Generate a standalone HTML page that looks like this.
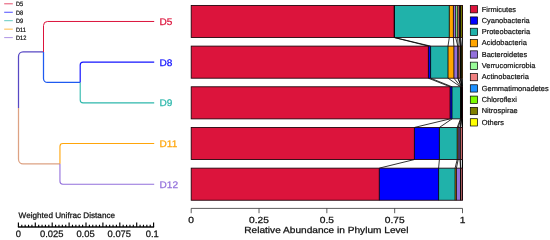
<!DOCTYPE html>
<html><head><meta charset="utf-8"><title>Phylum abundance</title>
<style>html,body{margin:0;padding:0;background:#fff}svg{display:block}text{font-family:"Liberation Sans",Arial,sans-serif;text-rendering:geometricPrecision}</style></head><body>
<svg width="550" height="240" viewBox="0 0 550 240">
<rect width="550" height="240" fill="#fff"/>
<g stroke="#000" stroke-width="0.8" fill="none">
<line x1="394.25" y1="37.52" x2="428.4" y2="46.10"/>
<line x1="394.4" y1="37.52" x2="430.6" y2="46.10"/>
<line x1="449.3" y1="37.52" x2="448" y2="46.10"/>
<line x1="453.4" y1="37.52" x2="453.9" y2="46.10"/>
<line x1="455.7" y1="37.52" x2="457.8" y2="46.10"/>
<line x1="457.7" y1="37.52" x2="458.2" y2="46.10"/>
<line x1="459.3" y1="37.52" x2="460.1" y2="46.10"/>
<line x1="459.9" y1="37.52" x2="460.5" y2="46.10"/>
<line x1="460.5" y1="37.52" x2="460.9" y2="46.10"/>
<line x1="462.4" y1="37.52" x2="461.6" y2="46.10"/>
<line x1="462.5" y1="37.52" x2="462.5" y2="46.10"/>
<line x1="428.4" y1="78.20" x2="450.1" y2="86.78"/>
<line x1="430.6" y1="78.20" x2="452.0" y2="86.78"/>
<line x1="448" y1="78.20" x2="460.5" y2="86.78"/>
<line x1="453.9" y1="78.20" x2="460.9" y2="86.78"/>
<line x1="457.8" y1="78.20" x2="461.2" y2="86.78"/>
<line x1="458.2" y1="78.20" x2="461.5" y2="86.78"/>
<line x1="460.1" y1="78.20" x2="461.8" y2="86.78"/>
<line x1="460.5" y1="78.20" x2="462.0" y2="86.78"/>
<line x1="460.9" y1="78.20" x2="462.2" y2="86.78"/>
<line x1="461.6" y1="78.20" x2="462.3" y2="86.78"/>
<line x1="462.5" y1="78.20" x2="462.5" y2="86.78"/>
<line x1="450.1" y1="118.88" x2="414.4" y2="127.46"/>
<line x1="452.0" y1="118.88" x2="439.4" y2="127.46"/>
<line x1="460.5" y1="118.88" x2="457.2" y2="127.46"/>
<line x1="460.9" y1="118.88" x2="458.2" y2="127.46"/>
<line x1="461.2" y1="118.88" x2="460.0" y2="127.46"/>
<line x1="461.5" y1="118.88" x2="460.3" y2="127.46"/>
<line x1="461.8" y1="118.88" x2="462.3" y2="127.46"/>
<line x1="462.0" y1="118.88" x2="462.5" y2="127.46"/>
<line x1="462.2" y1="118.88" x2="462.5" y2="127.46"/>
<line x1="462.3" y1="118.88" x2="462.5" y2="127.46"/>
<line x1="462.5" y1="118.88" x2="462.5" y2="127.46"/>
<line x1="414.4" y1="159.56" x2="379.3" y2="168.14"/>
<line x1="439.4" y1="159.56" x2="438.6" y2="168.14"/>
<line x1="457.2" y1="159.56" x2="455.1" y2="168.14"/>
<line x1="458.2" y1="159.56" x2="456.4" y2="168.14"/>
<line x1="460.0" y1="159.56" x2="460.5" y2="168.14"/>
<line x1="460.3" y1="159.56" x2="460.7" y2="168.14"/>
<line x1="462.3" y1="159.56" x2="462.3" y2="168.14"/>
<line x1="462.5" y1="159.56" x2="462.5" y2="168.14"/>
<line x1="462.5" y1="159.56" x2="462.5" y2="168.14"/>
<line x1="462.5" y1="159.56" x2="462.5" y2="168.14"/>
<line x1="462.5" y1="159.56" x2="462.5" y2="168.14"/>
</g>
<g>
<rect x="191.20" y="5.42" width="203.35" height="32.1" fill="#DC143C"/>
<rect x="394.25" y="5.42" width="0.45" height="32.1" fill="#0000FF"/>
<rect x="394.40" y="5.42" width="55.20" height="32.1" fill="#20B2AA"/>
<rect x="449.30" y="5.42" width="4.40" height="32.1" fill="#FFA500"/>
<rect x="453.40" y="5.42" width="2.60" height="32.1" fill="#9370DB"/>
<rect x="455.70" y="5.42" width="2.30" height="32.1" fill="#98FB98"/>
<rect x="457.70" y="5.42" width="1.90" height="32.1" fill="#F08080"/>
<rect x="459.30" y="5.42" width="0.90" height="32.1" fill="#1E90FF"/>
<rect x="459.90" y="5.42" width="0.90" height="32.1" fill="#7CFC00"/>
<rect x="460.50" y="5.42" width="2.20" height="32.1" fill="#808000"/>
<rect x="462.40" y="5.42" width="0.40" height="32.1" fill="#FFFF00"/>
<path d="M394.25 5.42v32.1M394.40 5.42v32.1M449.30 5.42v32.1M453.40 5.42v32.1M455.70 5.42v32.1M457.70 5.42v32.1M459.30 5.42v32.1M459.90 5.42v32.1M460.50 5.42v32.1M462.40 5.42v32.1" stroke="#000" stroke-width="0.85" fill="none"/>
<rect x="191.2" y="5.42" width="271.30" height="32.1" fill="none" stroke="#1a0008" stroke-width="0.85"/>
</g>
<g>
<rect x="191.20" y="46.10" width="237.50" height="32.1" fill="#DC143C"/>
<rect x="428.40" y="46.10" width="2.50" height="32.1" fill="#0000FF"/>
<rect x="430.60" y="46.10" width="17.70" height="32.1" fill="#20B2AA"/>
<rect x="448.00" y="46.10" width="6.20" height="32.1" fill="#FFA500"/>
<rect x="453.90" y="46.10" width="4.20" height="32.1" fill="#9370DB"/>
<rect x="457.80" y="46.10" width="0.70" height="32.1" fill="#98FB98"/>
<rect x="458.20" y="46.10" width="2.20" height="32.1" fill="#F08080"/>
<rect x="460.10" y="46.10" width="0.70" height="32.1" fill="#1E90FF"/>
<rect x="460.50" y="46.10" width="0.70" height="32.1" fill="#7CFC00"/>
<rect x="460.90" y="46.10" width="1.00" height="32.1" fill="#808000"/>
<rect x="461.60" y="46.10" width="1.20" height="32.1" fill="#FFFF00"/>
<path d="M428.40 46.10v32.1M430.60 46.10v32.1M448.00 46.10v32.1M453.90 46.10v32.1M457.80 46.10v32.1M458.20 46.10v32.1M460.10 46.10v32.1M460.50 46.10v32.1M460.90 46.10v32.1M461.60 46.10v32.1" stroke="#000" stroke-width="0.85" fill="none"/>
<rect x="191.2" y="46.10" width="271.30" height="32.1" fill="none" stroke="#1a0008" stroke-width="0.85"/>
</g>
<g>
<rect x="191.20" y="86.78" width="259.20" height="32.1" fill="#DC143C"/>
<rect x="450.10" y="86.78" width="2.20" height="32.1" fill="#0000FF"/>
<rect x="452.00" y="86.78" width="8.80" height="32.1" fill="#20B2AA"/>
<rect x="460.50" y="86.78" width="0.70" height="32.1" fill="#FFA500"/>
<rect x="460.90" y="86.78" width="0.60" height="32.1" fill="#9370DB"/>
<rect x="461.20" y="86.78" width="0.60" height="32.1" fill="#98FB98"/>
<rect x="461.50" y="86.78" width="0.60" height="32.1" fill="#F08080"/>
<rect x="461.80" y="86.78" width="0.50" height="32.1" fill="#1E90FF"/>
<rect x="462.00" y="86.78" width="0.50" height="32.1" fill="#7CFC00"/>
<rect x="462.20" y="86.78" width="0.40" height="32.1" fill="#808000"/>
<rect x="462.30" y="86.78" width="0.50" height="32.1" fill="#FFFF00"/>
<path d="M450.10 86.78v32.1M452.00 86.78v32.1M460.50 86.78v32.1M460.90 86.78v32.1M461.20 86.78v32.1M461.50 86.78v32.1M461.80 86.78v32.1M462.00 86.78v32.1M462.20 86.78v32.1M462.30 86.78v32.1" stroke="#000" stroke-width="0.85" fill="none"/>
<rect x="191.2" y="86.78" width="271.30" height="32.1" fill="none" stroke="#1a0008" stroke-width="0.85"/>
</g>
<g>
<rect x="191.20" y="127.46" width="223.50" height="32.1" fill="#DC143C"/>
<rect x="414.40" y="127.46" width="25.30" height="32.1" fill="#0000FF"/>
<rect x="439.40" y="127.46" width="18.10" height="32.1" fill="#20B2AA"/>
<rect x="457.20" y="127.46" width="1.30" height="32.1" fill="#FFA500"/>
<rect x="458.20" y="127.46" width="2.10" height="32.1" fill="#9370DB"/>
<rect x="460.00" y="127.46" width="0.60" height="32.1" fill="#98FB98"/>
<rect x="460.30" y="127.46" width="2.30" height="32.1" fill="#F08080"/>
<rect x="462.30" y="127.46" width="0.50" height="32.1" fill="#1E90FF"/>
<path d="M414.40 127.46v32.1M439.40 127.46v32.1M457.20 127.46v32.1M458.20 127.46v32.1M460.00 127.46v32.1M460.30 127.46v32.1M462.30 127.46v32.1" stroke="#000" stroke-width="0.85" fill="none"/>
<rect x="191.2" y="127.46" width="271.30" height="32.1" fill="none" stroke="#1a0008" stroke-width="0.85"/>
</g>
<g>
<rect x="191.20" y="168.14" width="188.40" height="32.1" fill="#DC143C"/>
<rect x="379.30" y="168.14" width="59.60" height="32.1" fill="#0000FF"/>
<rect x="438.60" y="168.14" width="16.80" height="32.1" fill="#20B2AA"/>
<rect x="455.10" y="168.14" width="1.60" height="32.1" fill="#FFA500"/>
<rect x="456.40" y="168.14" width="4.40" height="32.1" fill="#9370DB"/>
<rect x="460.50" y="168.14" width="0.50" height="32.1" fill="#98FB98"/>
<rect x="460.70" y="168.14" width="1.90" height="32.1" fill="#F08080"/>
<rect x="462.30" y="168.14" width="0.50" height="32.1" fill="#1E90FF"/>
<path d="M379.30 168.14v32.1M438.60 168.14v32.1M455.10 168.14v32.1M456.40 168.14v32.1M460.50 168.14v32.1M460.70 168.14v32.1M462.30 168.14v32.1" stroke="#000" stroke-width="0.85" fill="none"/>
<rect x="191.2" y="168.14" width="271.30" height="32.1" fill="none" stroke="#1a0008" stroke-width="0.85"/>
</g>
<path d="M191.2 208.4H462.5M191.20 208.4V213.2M259.02 208.4V213.2M326.85 208.4V213.2M394.68 208.4V213.2M462.50 208.4V213.2" stroke="#333" stroke-width="0.8" fill="none"/>
<text transform="translate(191.20 223.30) scale(1.15 1)" font-size="8.9" text-anchor="middle" fill="#111" stroke="#111" stroke-width="0.25">0</text>
<text transform="translate(259.02 223.30) scale(1.15 1)" font-size="8.9" text-anchor="middle" fill="#111" stroke="#111" stroke-width="0.25">0.25</text>
<text transform="translate(326.85 223.30) scale(1.15 1)" font-size="8.9" text-anchor="middle" fill="#111" stroke="#111" stroke-width="0.25">0.5</text>
<text transform="translate(394.68 223.30) scale(1.15 1)" font-size="8.9" text-anchor="middle" fill="#111" stroke="#111" stroke-width="0.25">0.75</text>
<text transform="translate(462.50 223.30) scale(1.15 1)" font-size="8.9" text-anchor="middle" fill="#111" stroke="#111" stroke-width="0.25">1</text>
<text transform="translate(326.35 233.30) scale(1.15 1)" font-size="8.8" text-anchor="middle" fill="#111" stroke="#111" stroke-width="0.25">Relative Abundance in Phylum Level</text>
<rect x="470.3" y="5.60" width="7.3" height="7.3" fill="#DC143C" stroke="#000" stroke-width="0.7"/>
<text transform="translate(481.70 11.50) scale(1.02 1)" font-size="7.3" text-anchor="start" fill="#111" stroke="#111" stroke-width="0.2">Firmicutes</text>
<rect x="470.3" y="16.91" width="7.3" height="7.3" fill="#0000FF" stroke="#000" stroke-width="0.7"/>
<text transform="translate(481.70 22.81) scale(1.02 1)" font-size="7.3" text-anchor="start" fill="#111" stroke="#111" stroke-width="0.2">Cyanobacteria</text>
<rect x="470.3" y="28.22" width="7.3" height="7.3" fill="#20B2AA" stroke="#000" stroke-width="0.7"/>
<text transform="translate(481.70 34.12) scale(1.02 1)" font-size="7.3" text-anchor="start" fill="#111" stroke="#111" stroke-width="0.2">Proteobacteria</text>
<rect x="470.3" y="39.53" width="7.3" height="7.3" fill="#FFA500" stroke="#000" stroke-width="0.7"/>
<text transform="translate(481.70 45.43) scale(1.02 1)" font-size="7.3" text-anchor="start" fill="#111" stroke="#111" stroke-width="0.2">Acidobacteria</text>
<rect x="470.3" y="50.84" width="7.3" height="7.3" fill="#9370DB" stroke="#000" stroke-width="0.7"/>
<text transform="translate(481.70 56.74) scale(1.02 1)" font-size="7.3" text-anchor="start" fill="#111" stroke="#111" stroke-width="0.2">Bacteroidetes</text>
<rect x="470.3" y="62.15" width="7.3" height="7.3" fill="#98FB98" stroke="#000" stroke-width="0.7"/>
<text transform="translate(481.70 68.05) scale(1.02 1)" font-size="7.3" text-anchor="start" fill="#111" stroke="#111" stroke-width="0.2">Verrucomicrobia</text>
<rect x="470.3" y="73.46" width="7.3" height="7.3" fill="#F08080" stroke="#000" stroke-width="0.7"/>
<text transform="translate(481.70 79.36) scale(1.02 1)" font-size="7.3" text-anchor="start" fill="#111" stroke="#111" stroke-width="0.2">Actinobacteria</text>
<rect x="470.3" y="84.77" width="7.3" height="7.3" fill="#1E90FF" stroke="#000" stroke-width="0.7"/>
<text transform="translate(481.70 90.67) scale(1.02 1)" font-size="7.3" text-anchor="start" fill="#111" stroke="#111" stroke-width="0.2">Gemmatimonadetes</text>
<rect x="470.3" y="96.08" width="7.3" height="7.3" fill="#7CFC00" stroke="#000" stroke-width="0.7"/>
<text transform="translate(481.70 101.98) scale(1.02 1)" font-size="7.3" text-anchor="start" fill="#111" stroke="#111" stroke-width="0.2">Chloroflexi</text>
<rect x="470.3" y="107.39" width="7.3" height="7.3" fill="#808000" stroke="#000" stroke-width="0.7"/>
<text transform="translate(481.70 113.29) scale(1.02 1)" font-size="7.3" text-anchor="start" fill="#111" stroke="#111" stroke-width="0.2">Nitrospirae</text>
<rect x="470.3" y="118.70" width="7.3" height="7.3" fill="#FFFF00" stroke="#000" stroke-width="0.7"/>
<text transform="translate(481.70 124.60) scale(1.02 1)" font-size="7.3" text-anchor="start" fill="#111" stroke="#111" stroke-width="0.2">Others</text>
<g fill="none" stroke-width="1.0" stroke-linecap="butt" stroke-linejoin="round">
<path d="M18.5 107.91V56.48A4.5 4.5 0 0 1 23.0 51.98H43.5" stroke="#5848C4" stroke-width="1.25"/>
<path d="M18.5 107.91V159.35A4.5 4.5 0 0 0 23.0 163.85H59.95" stroke="#DDA283" stroke-width="1.25"/>
<path d="M43.5 51.98V25.47A4.0 4.0 0 0 1 47.5 21.47H154.2" stroke="#DC143C" stroke-width="1.0"/>
<path d="M43.5 51.98V78.49A4.0 4.0 0 0 0 47.5 82.49H80.2" stroke="#1E5AF0" stroke-width="1.25"/>
<path d="M80.2 82.49V65.05A2.9 2.9 0 0 1 83.10000000000001 62.15H154.2" stroke="#1414FF" stroke-width="1.2"/>
<path d="M80.2 82.49V99.93A2.9 2.9 0 0 0 83.10000000000001 102.83H154.2" stroke="#2EB8AC" stroke-width="1.1"/>
<path d="M59.95 163.85V146.41A2.9 2.9 0 0 1 62.85 143.51H154.2" stroke="#FFA50A" stroke-width="1.1"/>
<path d="M59.95 163.85V181.29A2.9 2.9 0 0 0 62.85 184.19H154.2" stroke="#9370DB" stroke-width="1.1"/>
</g>
<text transform="translate(159.50 24.97) scale(1.05 1)" font-size="9.6" text-anchor="start" fill="#DC143C" stroke="#DC143C" stroke-width="0.25">D5</text>
<text transform="translate(159.50 65.65) scale(1.05 1)" font-size="9.6" text-anchor="start" fill="#1414FF" stroke="#1414FF" stroke-width="0.25">D8</text>
<text transform="translate(159.50 106.33) scale(1.05 1)" font-size="9.6" text-anchor="start" fill="#2EB8AC" stroke="#2EB8AC" stroke-width="0.25">D9</text>
<text transform="translate(159.50 147.01) scale(1.05 1)" font-size="9.6" text-anchor="start" fill="#FFA50A" stroke="#FFA50A" stroke-width="0.25">D11</text>
<text transform="translate(159.50 187.69) scale(1.05 1)" font-size="9.6" text-anchor="start" fill="#9370DB" stroke="#9370DB" stroke-width="0.25">D12</text>
<path d="M4.2 3.80H12.8" stroke="#DC143C" stroke-width="1" opacity="0.75"/>
<text transform="translate(15.90 6.15) scale(0.9 1)" font-size="6.3" text-anchor="start" fill="#111" stroke="#111" stroke-width="0.2">D5</text>
<path d="M4.2 12.25H12.8" stroke="#1414FF" stroke-width="1" opacity="0.75"/>
<text transform="translate(15.90 14.60) scale(0.9 1)" font-size="6.3" text-anchor="start" fill="#111" stroke="#111" stroke-width="0.2">D8</text>
<path d="M4.2 20.70H12.8" stroke="#2EB8AC" stroke-width="1" opacity="0.75"/>
<text transform="translate(15.90 23.05) scale(0.9 1)" font-size="6.3" text-anchor="start" fill="#111" stroke="#111" stroke-width="0.2">D9</text>
<path d="M4.2 29.15H12.8" stroke="#FFA50A" stroke-width="1" opacity="0.75"/>
<text transform="translate(15.90 31.50) scale(0.9 1)" font-size="6.3" text-anchor="start" fill="#111" stroke="#111" stroke-width="0.2">D11</text>
<path d="M4.2 37.60H12.8" stroke="#9370DB" stroke-width="1" opacity="0.75"/>
<text transform="translate(15.90 39.95) scale(0.9 1)" font-size="6.3" text-anchor="start" fill="#111" stroke="#111" stroke-width="0.2">D12</text>
<text transform="translate(18.60 217.60) scale(1.02 1)" font-size="8" text-anchor="start" fill="#111" stroke="#111" stroke-width="0.25">Weighted Unifrac Distance</text>
<path d="M17.9 227.0H154.1" stroke="#111" stroke-width="1.3" fill="none"/>
<path d="M18.40 227.0V222.5M21.78 227.0V224.7M25.16 227.0V224.7M28.54 227.0V224.7M31.92 227.0V224.7M35.30 227.0V222.5M38.68 227.0V224.7M42.06 227.0V224.7M45.44 227.0V224.7M48.82 227.0V224.7M52.20 227.0V222.5M55.58 227.0V224.7M58.96 227.0V224.7M62.34 227.0V224.7M65.72 227.0V224.7M69.10 227.0V222.5M72.48 227.0V224.7M75.86 227.0V224.7M79.24 227.0V224.7M82.62 227.0V224.7M86.00 227.0V222.5M89.38 227.0V224.7M92.76 227.0V224.7M96.14 227.0V224.7M99.52 227.0V224.7M102.90 227.0V222.5M106.28 227.0V224.7M109.66 227.0V224.7M113.04 227.0V224.7M116.42 227.0V224.7M119.80 227.0V222.5M123.18 227.0V224.7M126.56 227.0V224.7M129.94 227.0V224.7M133.32 227.0V224.7M136.70 227.0V222.5M140.08 227.0V224.7M143.46 227.0V224.7M146.84 227.0V224.7M150.22 227.0V224.7M153.60 227.0V222.5" stroke="#000" stroke-width="1.15" fill="none"/>
<text transform="translate(18.40 237.00) scale(1.0 1)" font-size="9.4" text-anchor="middle" fill="#111" stroke="#111" stroke-width="0.25">0</text>
<text transform="translate(51.70 237.00) scale(1.0 1)" font-size="9.4" text-anchor="middle" fill="#111" stroke="#111" stroke-width="0.25">0.025</text>
<text transform="translate(85.50 237.00) scale(1.0 1)" font-size="9.4" text-anchor="middle" fill="#111" stroke="#111" stroke-width="0.25">0.05</text>
<text transform="translate(119.30 237.00) scale(1.0 1)" font-size="9.4" text-anchor="middle" fill="#111" stroke="#111" stroke-width="0.25">0.075</text>
<text transform="translate(152.30 237.00) scale(1.0 1)" font-size="9.4" text-anchor="middle" fill="#111" stroke="#111" stroke-width="0.25">0.1</text>
</svg></body></html>
